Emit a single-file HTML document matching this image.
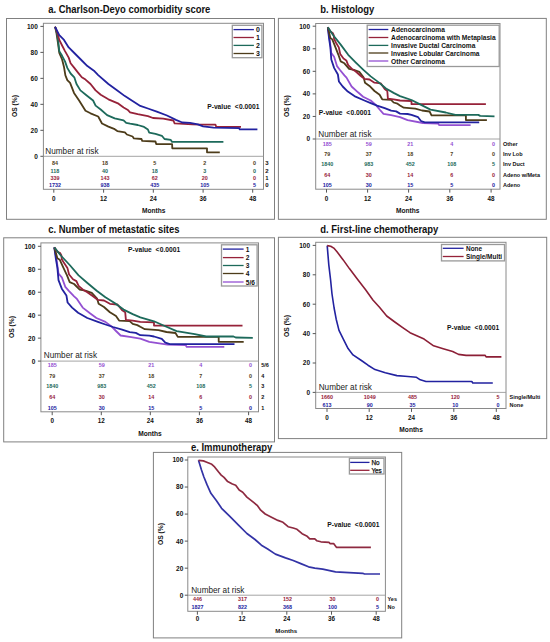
<!DOCTYPE html>
<html><head><meta charset="utf-8"><style>
html,body{margin:0;padding:0;background:#fff;}
svg{display:block;font-family:"Liberation Sans",sans-serif;}
</style></head><body>
<svg width="550" height="642" viewBox="0 0 550 642">
<rect x="0" y="0" width="550" height="642" fill="#fff"/>
<rect x="6.5" y="18.5" width="268.0" height="200.8" fill="none" stroke="#808080" stroke-width="1.0"/>
<text x="0" y="0" font-size="9.45" font-weight="bold" fill="#111" transform="translate(48.2 12.7) scale(1 1.08)">a. Charlson-Deyo comorbidity score</text>
<rect x="43.4" y="23.3" width="220.1" height="166.0" fill="none" stroke="#8a8a8a" stroke-width="1.0"/>
<line x1="40.4" y1="156.3" x2="43.4" y2="156.3" stroke="#444" stroke-width="0.9"/>
<text x="37.8" y="158.70000000000002" font-size="6.5" font-weight="bold" text-anchor="end" fill="#111" >0</text>
<line x1="40.4" y1="130.32000000000002" x2="43.4" y2="130.32000000000002" stroke="#444" stroke-width="0.9"/>
<text x="37.8" y="132.72000000000003" font-size="6.5" font-weight="bold" text-anchor="end" fill="#111" >20</text>
<line x1="40.4" y1="104.34" x2="43.4" y2="104.34" stroke="#444" stroke-width="0.9"/>
<text x="37.8" y="106.74000000000001" font-size="6.5" font-weight="bold" text-anchor="end" fill="#111" >40</text>
<line x1="40.4" y1="78.36000000000001" x2="43.4" y2="78.36000000000001" stroke="#444" stroke-width="0.9"/>
<text x="37.8" y="80.76000000000002" font-size="6.5" font-weight="bold" text-anchor="end" fill="#111" >60</text>
<line x1="40.4" y1="52.38000000000001" x2="43.4" y2="52.38000000000001" stroke="#444" stroke-width="0.9"/>
<text x="37.8" y="54.78000000000001" font-size="6.5" font-weight="bold" text-anchor="end" fill="#111" >80</text>
<line x1="40.4" y1="26.400000000000006" x2="43.4" y2="26.400000000000006" stroke="#444" stroke-width="0.9"/>
<text x="37.8" y="28.800000000000004" font-size="6.5" font-weight="bold" text-anchor="end" fill="#111" >100</text>
<line x1="43.4" y1="156.3" x2="263.5" y2="156.3" stroke="#9a9a9a" stroke-width="0.9"/>
<line x1="53.8" y1="189.3" x2="53.8" y2="192.70000000000002" stroke="#444" stroke-width="0.9"/>
<text x="53.8" y="201.1" font-size="6.3" font-weight="bold" text-anchor="middle" fill="#111" >0</text>
<line x1="103.6" y1="189.3" x2="103.6" y2="192.70000000000002" stroke="#444" stroke-width="0.9"/>
<text x="103.6" y="201.1" font-size="6.3" font-weight="bold" text-anchor="middle" fill="#111" >12</text>
<line x1="153.3" y1="189.3" x2="153.3" y2="192.70000000000002" stroke="#444" stroke-width="0.9"/>
<text x="153.3" y="201.1" font-size="6.3" font-weight="bold" text-anchor="middle" fill="#111" >24</text>
<line x1="203.1" y1="189.3" x2="203.1" y2="192.70000000000002" stroke="#444" stroke-width="0.9"/>
<text x="203.1" y="201.1" font-size="6.3" font-weight="bold" text-anchor="middle" fill="#111" >36</text>
<line x1="252.7" y1="189.3" x2="252.7" y2="192.70000000000002" stroke="#444" stroke-width="0.9"/>
<text x="252.7" y="201.1" font-size="6.3" font-weight="bold" text-anchor="middle" fill="#111" >48</text>
<text x="153.7" y="213.3" font-size="6.6" font-weight="bold" text-anchor="middle" fill="#111" >Months</text>
<text x="16.9" y="106" font-size="6.7" font-weight="bold" text-anchor="middle" fill="#111" transform="rotate(-90 16.9 106)">OS (%)</text>
<text x="45.3" y="154.2" font-size="8.2" font-weight="normal" text-anchor="start" fill="#222" >Number at risk</text>
<text x="207.2" y="109.1" font-size="6.7" font-weight="bold" text-anchor="start" fill="#111" >P-value&#160;&#160;&lt;<tspan dx="0.3">0.0001</tspan></text>
<text x="54.9" y="165.3" font-size="5.4" font-weight="bold" text-anchor="middle" fill="#4d3c1a" >84</text>
<text x="104.89999999999999" y="165.3" font-size="5.4" font-weight="bold" text-anchor="middle" fill="#4d3c1a" >18</text>
<text x="154.8" y="165.3" font-size="5.4" font-weight="bold" text-anchor="middle" fill="#4d3c1a" >5</text>
<text x="204.79999999999998" y="165.3" font-size="5.4" font-weight="bold" text-anchor="middle" fill="#4d3c1a" >2</text>
<text x="254.6" y="165.3" font-size="5.4" font-weight="bold" text-anchor="middle" fill="#4d3c1a" >0</text>
<text x="265.3" y="165.3" font-size="6.0" font-weight="bold" text-anchor="start" fill="#111" >3</text>
<text x="54.9" y="172.70000000000002" font-size="5.4" font-weight="bold" text-anchor="middle" fill="#1d6a5b" >118</text>
<text x="104.89999999999999" y="172.70000000000002" font-size="5.4" font-weight="bold" text-anchor="middle" fill="#1d6a5b" >40</text>
<text x="154.8" y="172.70000000000002" font-size="5.4" font-weight="bold" text-anchor="middle" fill="#1d6a5b" >18</text>
<text x="204.79999999999998" y="172.70000000000002" font-size="5.4" font-weight="bold" text-anchor="middle" fill="#1d6a5b" >3</text>
<text x="254.6" y="172.70000000000002" font-size="5.4" font-weight="bold" text-anchor="middle" fill="#1d6a5b" >0</text>
<text x="265.3" y="172.70000000000002" font-size="6.0" font-weight="bold" text-anchor="start" fill="#111" >2</text>
<text x="54.9" y="180.0" font-size="5.4" font-weight="bold" text-anchor="middle" fill="#962239" >339</text>
<text x="104.89999999999999" y="180.0" font-size="5.4" font-weight="bold" text-anchor="middle" fill="#962239" >143</text>
<text x="154.8" y="180.0" font-size="5.4" font-weight="bold" text-anchor="middle" fill="#962239" >62</text>
<text x="204.79999999999998" y="180.0" font-size="5.4" font-weight="bold" text-anchor="middle" fill="#962239" >20</text>
<text x="254.6" y="180.0" font-size="5.4" font-weight="bold" text-anchor="middle" fill="#962239" >0</text>
<text x="265.3" y="180.0" font-size="6.0" font-weight="bold" text-anchor="start" fill="#111" >1</text>
<text x="54.9" y="187.10000000000002" font-size="5.4" font-weight="bold" text-anchor="middle" fill="#2222a0" >1732</text>
<text x="104.89999999999999" y="187.10000000000002" font-size="5.4" font-weight="bold" text-anchor="middle" fill="#2222a0" >938</text>
<text x="154.8" y="187.10000000000002" font-size="5.4" font-weight="bold" text-anchor="middle" fill="#2222a0" >435</text>
<text x="204.79999999999998" y="187.10000000000002" font-size="5.4" font-weight="bold" text-anchor="middle" fill="#2222a0" >105</text>
<text x="254.6" y="187.10000000000002" font-size="5.4" font-weight="bold" text-anchor="middle" fill="#2222a0" >5</text>
<text x="265.3" y="187.10000000000002" font-size="6.0" font-weight="bold" text-anchor="start" fill="#111" >0</text>
<rect x="232.3" y="25.3" width="29.599999999999966" height="32.400000000000006" fill="#fff" stroke="#999" stroke-width="1.3"/>
<line x1="233.5" y1="29.6" x2="253.9" y2="29.6" stroke="#2222a0" stroke-width="1.3"/>
<text x="256.1" y="32.1" font-size="7.0" font-weight="bold" text-anchor="start" fill="#111" >0</text>
<line x1="233.5" y1="37.5" x2="253.9" y2="37.5" stroke="#962239" stroke-width="1.3"/>
<text x="256.1" y="40.0" font-size="7.0" font-weight="bold" text-anchor="start" fill="#111" >1</text>
<line x1="233.5" y1="45.4" x2="253.9" y2="45.4" stroke="#1d6a5b" stroke-width="1.3"/>
<text x="256.1" y="47.9" font-size="7.0" font-weight="bold" text-anchor="start" fill="#111" >2</text>
<line x1="233.5" y1="53.5" x2="253.9" y2="53.5" stroke="#4d3c1a" stroke-width="1.3"/>
<text x="256.1" y="56.0" font-size="7.0" font-weight="bold" text-anchor="start" fill="#111" >3</text>
<polyline points="55.1,26.8 56.5,33.3 57.9,42.7 59.3,53.0 62.1,59.5 64.0,67.0 65.4,75.4 67.3,80.1 70.1,82.9 74.0,92.9 79.1,100.5 85.5,110.7 90.5,113.3 98.2,116.5 102.0,123.5 108.4,126.6 114.7,129.2 117.3,131.1 124.9,132.4 126.9,134.5 132.6,136.5 133.9,138.4 141.5,139.0 142.2,140.9 155.5,141.5 156.2,144.1 172.1,144.1 172.3,148.3 207.0,148.3 207.0,152.3 219.8,152.3" fill="none" stroke="#4d3c1a" stroke-width="1.8" stroke-linejoin="round"/>
<polyline points="55.1,26.8 57.0,33.3 58.4,42.7 59.3,51.1 62.1,55.8 65.0,61.4 67.3,67.9 70.6,73.5 74.3,77.3 76.5,84.0 80.4,90.4 86.7,95.5 93.1,100.5 95.6,105.6 100.7,109.5 107.1,115.2 114.7,118.4 123.6,120.3 126.2,122.8 130.1,123.7 137.7,125.0 144.1,126.9 147.9,129.5 149.2,132.6 155.5,133.9 161.9,135.8 164.5,139.0 170.8,139.9 172.1,141.9 223.4,141.9" fill="none" stroke="#1d6a5b" stroke-width="1.8" stroke-linejoin="round"/>
<polyline points="55.1,26.8 57.5,33.3 59.3,39.9 62.1,45.5 65.0,51.1 68.7,57.6 70.6,63.3 74.3,67.9 78.0,72.6 81.8,77.3 85.5,79.6 90.5,84.0 95.6,90.4 100.7,94.8 108.4,99.3 118.5,103.7 123.6,107.5 127.5,109.7 130.1,112.3 137.7,114.2 147.9,116.1 153.0,118.0 163.2,118.6 173.4,120.5 174.6,123.3 192.6,124.4 200.5,124.7 215.5,124.7 216.2,126.8 241.0,126.8" fill="none" stroke="#962239" stroke-width="1.8" stroke-linejoin="round"/>
<polyline points="55.1,26.8 59.3,35.2 64.0,39.9 68.7,47.4 74.3,53.0 80.8,59.5 87.4,66.1 93.9,70.7 98.2,75.1 108.4,84.0 117.3,90.4 124.9,96.1 131.4,100.2 140.3,105.9 147.9,108.5 156.8,111.6 167.0,115.5 175.9,119.9 182.3,122.5 190.0,122.8 197.9,124.4 203.1,126.4 213.6,127.7 239.1,128.1 239.7,129.4 257.4,129.4" fill="none" stroke="#2222a0" stroke-width="1.8" stroke-linejoin="round"/>
<rect x="278.4" y="18.4" width="267.9" height="200.9" fill="none" stroke="#808080" stroke-width="1.0"/>
<text x="0" y="0" font-size="9.45" font-weight="bold" fill="#111" transform="translate(320.3 12.7) scale(1 1.08)">b. Histology</text>
<rect x="315.7" y="23.5" width="184.3" height="165.7" fill="none" stroke="#8a8a8a" stroke-width="1.0"/>
<line x1="312.7" y1="139.0" x2="315.7" y2="139.0" stroke="#444" stroke-width="0.9"/>
<text x="310.09999999999997" y="141.4" font-size="6.5" font-weight="bold" text-anchor="end" fill="#111" >0</text>
<line x1="312.7" y1="116.44" x2="315.7" y2="116.44" stroke="#444" stroke-width="0.9"/>
<text x="310.09999999999997" y="118.84" font-size="6.5" font-weight="bold" text-anchor="end" fill="#111" >20</text>
<line x1="312.7" y1="93.88" x2="315.7" y2="93.88" stroke="#444" stroke-width="0.9"/>
<text x="310.09999999999997" y="96.28" font-size="6.5" font-weight="bold" text-anchor="end" fill="#111" >40</text>
<line x1="312.7" y1="71.32" x2="315.7" y2="71.32" stroke="#444" stroke-width="0.9"/>
<text x="310.09999999999997" y="73.72" font-size="6.5" font-weight="bold" text-anchor="end" fill="#111" >60</text>
<line x1="312.7" y1="48.760000000000005" x2="315.7" y2="48.760000000000005" stroke="#444" stroke-width="0.9"/>
<text x="310.09999999999997" y="51.160000000000004" font-size="6.5" font-weight="bold" text-anchor="end" fill="#111" >80</text>
<line x1="312.7" y1="26.200000000000003" x2="315.7" y2="26.200000000000003" stroke="#444" stroke-width="0.9"/>
<text x="310.09999999999997" y="28.6" font-size="6.5" font-weight="bold" text-anchor="end" fill="#111" >100</text>
<line x1="315.7" y1="139" x2="500" y2="139" stroke="#9a9a9a" stroke-width="0.9"/>
<line x1="326.5" y1="189.2" x2="326.5" y2="192.6" stroke="#444" stroke-width="0.9"/>
<text x="326.5" y="200.9" font-size="6.3" font-weight="bold" text-anchor="middle" fill="#111" >0</text>
<line x1="367.6" y1="189.2" x2="367.6" y2="192.6" stroke="#444" stroke-width="0.9"/>
<text x="367.6" y="200.9" font-size="6.3" font-weight="bold" text-anchor="middle" fill="#111" >12</text>
<line x1="408.6" y1="189.2" x2="408.6" y2="192.6" stroke="#444" stroke-width="0.9"/>
<text x="408.6" y="200.9" font-size="6.3" font-weight="bold" text-anchor="middle" fill="#111" >24</text>
<line x1="449.8" y1="189.2" x2="449.8" y2="192.6" stroke="#444" stroke-width="0.9"/>
<text x="449.8" y="200.9" font-size="6.3" font-weight="bold" text-anchor="middle" fill="#111" >36</text>
<line x1="491.1" y1="189.2" x2="491.1" y2="192.6" stroke="#444" stroke-width="0.9"/>
<text x="491.1" y="200.9" font-size="6.3" font-weight="bold" text-anchor="middle" fill="#111" >48</text>
<text x="407.8" y="212.5" font-size="6.6" font-weight="bold" text-anchor="middle" fill="#111" >Months</text>
<text x="289.1" y="106.1" font-size="6.7" font-weight="bold" text-anchor="middle" fill="#111" transform="rotate(-90 289.1 106.1)">OS (%)</text>
<text x="318.3" y="137.2" font-size="8.2" font-weight="normal" text-anchor="start" fill="#222" >Number at risk</text>
<text x="318.7" y="114.5" font-size="6.7" font-weight="bold" text-anchor="start" fill="#111" >P-value&#160;&#160;&lt;<tspan dx="0.3">0.0001</tspan></text>
<text x="327.2" y="145.5" font-size="5.4" font-weight="bold" text-anchor="middle" fill="#9450d2" >185</text>
<text x="368.75" y="145.5" font-size="5.4" font-weight="bold" text-anchor="middle" fill="#9450d2" >59</text>
<text x="410.2" y="145.5" font-size="5.4" font-weight="bold" text-anchor="middle" fill="#9450d2" >21</text>
<text x="451.85" y="145.5" font-size="5.4" font-weight="bold" text-anchor="middle" fill="#9450d2" >4</text>
<text x="493.6" y="145.5" font-size="5.4" font-weight="bold" text-anchor="middle" fill="#9450d2" >0</text>
<text x="503" y="145.5" font-size="5.5" font-weight="bold" text-anchor="start" fill="#111" >Other</text>
<text x="327.2" y="155.60000000000002" font-size="5.4" font-weight="bold" text-anchor="middle" fill="#4d3c1a" >79</text>
<text x="368.75" y="155.60000000000002" font-size="5.4" font-weight="bold" text-anchor="middle" fill="#4d3c1a" >37</text>
<text x="410.2" y="155.60000000000002" font-size="5.4" font-weight="bold" text-anchor="middle" fill="#4d3c1a" >18</text>
<text x="451.85" y="155.60000000000002" font-size="5.4" font-weight="bold" text-anchor="middle" fill="#4d3c1a" >7</text>
<text x="493.6" y="155.60000000000002" font-size="5.4" font-weight="bold" text-anchor="middle" fill="#4d3c1a" >0</text>
<text x="503" y="155.60000000000002" font-size="5.5" font-weight="bold" text-anchor="start" fill="#111" >Inv Lob</text>
<text x="327.2" y="166.3" font-size="5.4" font-weight="bold" text-anchor="middle" fill="#1d6a5b" >1840</text>
<text x="368.75" y="166.3" font-size="5.4" font-weight="bold" text-anchor="middle" fill="#1d6a5b" >983</text>
<text x="410.2" y="166.3" font-size="5.4" font-weight="bold" text-anchor="middle" fill="#1d6a5b" >452</text>
<text x="451.85" y="166.3" font-size="5.4" font-weight="bold" text-anchor="middle" fill="#1d6a5b" >108</text>
<text x="493.6" y="166.3" font-size="5.4" font-weight="bold" text-anchor="middle" fill="#1d6a5b" >5</text>
<text x="503" y="166.3" font-size="5.5" font-weight="bold" text-anchor="start" fill="#111" >Inv Duct</text>
<text x="327.2" y="176.8" font-size="5.4" font-weight="bold" text-anchor="middle" fill="#962239" >64</text>
<text x="368.75" y="176.8" font-size="5.4" font-weight="bold" text-anchor="middle" fill="#962239" >30</text>
<text x="410.2" y="176.8" font-size="5.4" font-weight="bold" text-anchor="middle" fill="#962239" >14</text>
<text x="451.85" y="176.8" font-size="5.4" font-weight="bold" text-anchor="middle" fill="#962239" >6</text>
<text x="493.6" y="176.8" font-size="5.4" font-weight="bold" text-anchor="middle" fill="#962239" >0</text>
<text x="503" y="176.8" font-size="5.5" font-weight="bold" text-anchor="start" fill="#111" >Adeno w/Meta</text>
<text x="327.2" y="187.20000000000002" font-size="5.4" font-weight="bold" text-anchor="middle" fill="#2222a0" >105</text>
<text x="368.75" y="187.20000000000002" font-size="5.4" font-weight="bold" text-anchor="middle" fill="#2222a0" >30</text>
<text x="410.2" y="187.20000000000002" font-size="5.4" font-weight="bold" text-anchor="middle" fill="#2222a0" >15</text>
<text x="451.85" y="187.20000000000002" font-size="5.4" font-weight="bold" text-anchor="middle" fill="#2222a0" >5</text>
<text x="493.6" y="187.20000000000002" font-size="5.4" font-weight="bold" text-anchor="middle" fill="#2222a0" >0</text>
<text x="503" y="187.20000000000002" font-size="5.5" font-weight="bold" text-anchor="start" fill="#111" >Adeno</text>
<rect x="367.2" y="25.2" width="132.0" height="41.3" fill="#fff" stroke="#999" stroke-width="1.3"/>
<line x1="368.6" y1="29.5" x2="388.3" y2="29.5" stroke="#2222a0" stroke-width="1.3"/>
<text x="391.1" y="32.0" font-size="6.63" font-weight="bold" text-anchor="start" fill="#111" >Adenocarcinoma</text>
<line x1="368.6" y1="37.5" x2="388.3" y2="37.5" stroke="#962239" stroke-width="1.3"/>
<text x="391.1" y="40.0" font-size="6.63" font-weight="bold" text-anchor="start" fill="#111" >Adenocarcinoma with Metaplasia</text>
<line x1="368.6" y1="45.4" x2="388.3" y2="45.4" stroke="#1d6a5b" stroke-width="1.3"/>
<text x="391.1" y="47.9" font-size="6.63" font-weight="bold" text-anchor="start" fill="#111" >Invasive Ductal Carcinoma</text>
<line x1="368.6" y1="53" x2="388.3" y2="53" stroke="#4d3c1a" stroke-width="1.3"/>
<text x="391.1" y="55.5" font-size="6.63" font-weight="bold" text-anchor="start" fill="#111" >Invasive Lobular Carcinoma</text>
<line x1="368.6" y1="61" x2="388.3" y2="61" stroke="#9450d2" stroke-width="1.3"/>
<text x="391.1" y="63.5" font-size="6.63" font-weight="bold" text-anchor="start" fill="#111" >Other Carcinoma</text>
<polyline points="327.8,27.3 329.5,38.0 331.3,53.0 334.1,56.7 337.0,66.1 339.8,69.8 344.4,75.4 346.5,77.6 351.6,86.5 358.0,92.3 363.1,96.7 370.7,100.5 375.8,105.0 379.6,109.5 383.5,113.9 391.1,115.2 400.0,117.1 407.6,120.1 422.9,123.0 438.2,123.5 439.1,125.1 470.6,125.1" fill="none" stroke="#9450d2" stroke-width="1.8" stroke-linejoin="round"/>
<polyline points="327.8,27.3 329.0,38.0 330.4,47.4 331.3,59.5 334.1,67.9 337.9,74.5 338.9,81.5 342.7,86.5 347.8,91.6 355.5,96.7 364.4,100.5 370.7,103.1 377.1,105.6 384.7,108.2 391.1,110.7 396.2,111.4 400.0,113.6 407.6,114.0 411.5,114.9 418.1,117.2 421.0,121.0 424.8,122.4 479.2,122.4" fill="none" stroke="#2222a0" stroke-width="1.8" stroke-linejoin="round"/>
<polyline points="327.8,27.3 330.4,38.0 332.3,39.4 335.1,46.4 338.4,54.8 340.7,61.4 344.4,63.3 349.1,68.9 353.8,69.8 359.3,71.9 363.7,77.6 365.0,82.7 369.5,85.9 374.5,91.0 379.6,94.8 382.2,99.3 391.1,99.9 393.6,102.5 397.5,103.7 400.0,105.4 403.8,107.7 415.3,108.6 422.0,110.5 429.6,111.5 431.5,115.3 465.9,115.3 465.9,120.1 486.9,120.1" fill="none" stroke="#4d3c1a" stroke-width="1.8" stroke-linejoin="round"/>
<polyline points="327.8,27.3 330.4,31.5 332.7,32.9 333.7,35.2 334.1,39.0 336.0,42.7 338.8,47.4 340.2,53.9 343.5,58.6 346.3,60.4 348.2,65.1 351.9,68.9 355.5,71.3 360.5,75.7 364.4,78.9 369.5,79.5 374.5,82.7 380.9,83.4 384.7,89.1 387.3,91.0 387.9,98.6 393.6,99.3 400.0,100.5 411.5,101.0 411.5,104.2 485.9,104.2" fill="none" stroke="#962239" stroke-width="1.8" stroke-linejoin="round"/>
<polyline points="327.8,27.3 333.2,35.2 340.7,44.6 348.2,54.8 355.6,62.3 363.4,69.9 370.7,76.4 378.4,82.1 386.0,88.5 393.6,92.9 400.0,96.1 411.5,100.0 419.1,103.9 430.5,109.6 445.8,112.5 455.4,114.9 478.3,114.9 480.2,115.9 494.5,116.3" fill="none" stroke="#1d6a5b" stroke-width="1.8" stroke-linejoin="round"/>
<rect x="3.7" y="237.8" width="270.8" height="204.09999999999997" fill="none" stroke="#808080" stroke-width="1.0"/>
<text x="0" y="0" font-size="9.45" font-weight="bold" fill="#111" transform="translate(48.3 232.6) scale(1 1.08)">c. Number of metastatic sites</text>
<rect x="40.9" y="242.9" width="217.6" height="168.9" fill="none" stroke="#8a8a8a" stroke-width="1.0"/>
<line x1="37.9" y1="361.1" x2="40.9" y2="361.1" stroke="#444" stroke-width="0.9"/>
<text x="35.3" y="363.5" font-size="6.5" font-weight="bold" text-anchor="end" fill="#111" >0</text>
<line x1="37.9" y1="338.14000000000004" x2="40.9" y2="338.14000000000004" stroke="#444" stroke-width="0.9"/>
<text x="35.3" y="340.54" font-size="6.5" font-weight="bold" text-anchor="end" fill="#111" >20</text>
<line x1="37.9" y1="315.18" x2="40.9" y2="315.18" stroke="#444" stroke-width="0.9"/>
<text x="35.3" y="317.58" font-size="6.5" font-weight="bold" text-anchor="end" fill="#111" >40</text>
<line x1="37.9" y1="292.22" x2="40.9" y2="292.22" stroke="#444" stroke-width="0.9"/>
<text x="35.3" y="294.62" font-size="6.5" font-weight="bold" text-anchor="end" fill="#111" >60</text>
<line x1="37.9" y1="269.26" x2="40.9" y2="269.26" stroke="#444" stroke-width="0.9"/>
<text x="35.3" y="271.65999999999997" font-size="6.5" font-weight="bold" text-anchor="end" fill="#111" >80</text>
<line x1="37.9" y1="246.3" x2="40.9" y2="246.3" stroke="#444" stroke-width="0.9"/>
<text x="35.3" y="248.70000000000002" font-size="6.5" font-weight="bold" text-anchor="end" fill="#111" >100</text>
<line x1="40.9" y1="361.1" x2="258.5" y2="361.1" stroke="#9a9a9a" stroke-width="0.9"/>
<line x1="52.2" y1="411.8" x2="52.2" y2="415.2" stroke="#444" stroke-width="0.9"/>
<text x="52.2" y="423.4" font-size="6.3" font-weight="bold" text-anchor="middle" fill="#111" >0</text>
<line x1="101.3" y1="411.8" x2="101.3" y2="415.2" stroke="#444" stroke-width="0.9"/>
<text x="101.3" y="423.4" font-size="6.3" font-weight="bold" text-anchor="middle" fill="#111" >12</text>
<line x1="150.3" y1="411.8" x2="150.3" y2="415.2" stroke="#444" stroke-width="0.9"/>
<text x="150.3" y="423.4" font-size="6.3" font-weight="bold" text-anchor="middle" fill="#111" >24</text>
<line x1="199.4" y1="411.8" x2="199.4" y2="415.2" stroke="#444" stroke-width="0.9"/>
<text x="199.4" y="423.4" font-size="6.3" font-weight="bold" text-anchor="middle" fill="#111" >36</text>
<line x1="248.6" y1="411.8" x2="248.6" y2="415.2" stroke="#444" stroke-width="0.9"/>
<text x="248.6" y="423.4" font-size="6.3" font-weight="bold" text-anchor="middle" fill="#111" >48</text>
<text x="150" y="435.8" font-size="6.6" font-weight="bold" text-anchor="middle" fill="#111" >Months</text>
<text x="14.0" y="327" font-size="6.7" font-weight="bold" text-anchor="middle" fill="#111" transform="rotate(-90 14.0 327)">OS (%)</text>
<text x="43.8" y="358" font-size="8.2" font-weight="normal" text-anchor="start" fill="#222" >Number at risk</text>
<text x="128" y="252.2" font-size="6.7" font-weight="bold" text-anchor="start" fill="#111" >P-value&#160;&#160;&lt;<tspan dx="0.3">0.0001</tspan></text>
<text x="52.2" y="367.2" font-size="5.4" font-weight="bold" text-anchor="middle" fill="#9450d2" >185</text>
<text x="101.75" y="367.2" font-size="5.4" font-weight="bold" text-anchor="middle" fill="#9450d2" >59</text>
<text x="151.20000000000002" y="367.2" font-size="5.4" font-weight="bold" text-anchor="middle" fill="#9450d2" >21</text>
<text x="200.75" y="367.2" font-size="5.4" font-weight="bold" text-anchor="middle" fill="#9450d2" >4</text>
<text x="250.4" y="367.2" font-size="5.4" font-weight="bold" text-anchor="middle" fill="#9450d2" >0</text>
<text x="261.2" y="367.2" font-size="5.5" font-weight="bold" text-anchor="start" fill="#111" >5/6</text>
<text x="52.2" y="377.90000000000003" font-size="5.4" font-weight="bold" text-anchor="middle" fill="#4d3c1a" >79</text>
<text x="101.75" y="377.90000000000003" font-size="5.4" font-weight="bold" text-anchor="middle" fill="#4d3c1a" >37</text>
<text x="151.20000000000002" y="377.90000000000003" font-size="5.4" font-weight="bold" text-anchor="middle" fill="#4d3c1a" >18</text>
<text x="200.75" y="377.90000000000003" font-size="5.4" font-weight="bold" text-anchor="middle" fill="#4d3c1a" >7</text>
<text x="250.4" y="377.90000000000003" font-size="5.4" font-weight="bold" text-anchor="middle" fill="#4d3c1a" >0</text>
<text x="261.2" y="377.90000000000003" font-size="5.5" font-weight="bold" text-anchor="start" fill="#111" >4</text>
<text x="52.2" y="388.40000000000003" font-size="5.4" font-weight="bold" text-anchor="middle" fill="#1d6a5b" >1840</text>
<text x="101.75" y="388.40000000000003" font-size="5.4" font-weight="bold" text-anchor="middle" fill="#1d6a5b" >983</text>
<text x="151.20000000000002" y="388.40000000000003" font-size="5.4" font-weight="bold" text-anchor="middle" fill="#1d6a5b" >452</text>
<text x="200.75" y="388.40000000000003" font-size="5.4" font-weight="bold" text-anchor="middle" fill="#1d6a5b" >108</text>
<text x="250.4" y="388.40000000000003" font-size="5.4" font-weight="bold" text-anchor="middle" fill="#1d6a5b" >5</text>
<text x="261.2" y="388.40000000000003" font-size="5.5" font-weight="bold" text-anchor="start" fill="#111" >3</text>
<text x="52.2" y="399.1" font-size="5.4" font-weight="bold" text-anchor="middle" fill="#962239" >64</text>
<text x="101.75" y="399.1" font-size="5.4" font-weight="bold" text-anchor="middle" fill="#962239" >30</text>
<text x="151.20000000000002" y="399.1" font-size="5.4" font-weight="bold" text-anchor="middle" fill="#962239" >14</text>
<text x="200.75" y="399.1" font-size="5.4" font-weight="bold" text-anchor="middle" fill="#962239" >6</text>
<text x="250.4" y="399.1" font-size="5.4" font-weight="bold" text-anchor="middle" fill="#962239" >0</text>
<text x="261.2" y="399.1" font-size="5.5" font-weight="bold" text-anchor="start" fill="#111" >2</text>
<text x="52.2" y="409.8" font-size="5.4" font-weight="bold" text-anchor="middle" fill="#2222a0" >105</text>
<text x="101.75" y="409.8" font-size="5.4" font-weight="bold" text-anchor="middle" fill="#2222a0" >30</text>
<text x="151.20000000000002" y="409.8" font-size="5.4" font-weight="bold" text-anchor="middle" fill="#2222a0" >15</text>
<text x="200.75" y="409.8" font-size="5.4" font-weight="bold" text-anchor="middle" fill="#2222a0" >5</text>
<text x="250.4" y="409.8" font-size="5.4" font-weight="bold" text-anchor="middle" fill="#2222a0" >0</text>
<text x="261.2" y="409.8" font-size="5.5" font-weight="bold" text-anchor="start" fill="#111" >1</text>
<rect x="221.5" y="244.8" width="35.60000000000002" height="41.19999999999999" fill="#fff" stroke="#999" stroke-width="1.3"/>
<line x1="222.9" y1="249.1" x2="243.6" y2="249.1" stroke="#2222a0" stroke-width="1.3"/>
<text x="245.8" y="251.6" font-size="6.6" font-weight="bold" text-anchor="start" fill="#111" >1</text>
<line x1="222.9" y1="257.6" x2="243.6" y2="257.6" stroke="#962239" stroke-width="1.3"/>
<text x="245.8" y="260.1" font-size="6.6" font-weight="bold" text-anchor="start" fill="#111" >2</text>
<line x1="222.9" y1="265.5" x2="243.6" y2="265.5" stroke="#1d6a5b" stroke-width="1.3"/>
<text x="245.8" y="268.0" font-size="6.6" font-weight="bold" text-anchor="start" fill="#111" >3</text>
<line x1="222.9" y1="273.5" x2="243.6" y2="273.5" stroke="#4d3c1a" stroke-width="1.3"/>
<text x="245.8" y="276.0" font-size="6.6" font-weight="bold" text-anchor="start" fill="#111" >4</text>
<line x1="222.9" y1="282" x2="243.6" y2="282" stroke="#9450d2" stroke-width="1.3"/>
<text x="245.8" y="284.5" font-size="6.6" font-weight="bold" text-anchor="start" fill="#111" >5/6</text>
<polyline points="54.3,247.4 56.4,258.3 58.5,273.6 61.8,277.3 65.3,286.9 68.6,290.6 74.1,296.3 76.6,298.6 82.7,307.6 90.3,313.5 96.4,318.0 105.4,321.9 111.5,326.4 116.0,331.0 120.6,335.5 129.7,336.8 140.3,338.7 149.3,341.8 167.5,344.7 185.7,345.2 186.8,346.9 224.3,346.9" fill="none" stroke="#9450d2" stroke-width="1.8" stroke-linejoin="round"/>
<polyline points="54.3,247.4 55.8,258.3 57.4,267.9 58.5,280.2 61.8,288.7 66.4,295.4 67.6,302.5 72.1,307.6 78.1,312.8 87.3,318.0 97.9,321.9 105.4,324.5 113.0,327.0 122.1,329.7 129.7,332.2 135.8,332.9 140.3,335.2 149.3,335.6 154.0,336.5 161.8,338.8 165.3,342.7 169.8,344.1 234.5,344.1" fill="none" stroke="#2222a0" stroke-width="1.8" stroke-linejoin="round"/>
<polyline points="54.3,247.4 57.4,258.3 59.7,259.7 63.0,266.8 67.0,275.4 69.7,282.1 74.1,284.0 79.7,289.7 85.3,290.6 91.8,292.8 97.1,298.6 98.6,303.8 104.0,307.0 109.9,312.2 116.0,316.1 119.1,320.6 129.7,321.2 132.7,323.9 137.3,325.1 140.3,326.8 144.8,329.2 158.5,330.1 166.5,332.0 175.5,333.0 177.8,336.9 218.7,336.9 218.7,341.8 243.7,341.8" fill="none" stroke="#4d3c1a" stroke-width="1.8" stroke-linejoin="round"/>
<polyline points="54.3,247.4 57.4,251.7 60.2,253.1 61.4,255.5 61.8,259.3 64.1,263.1 67.4,267.9 69.1,274.5 73.0,279.2 76.4,281.1 78.6,285.9 83.0,289.7 87.3,292.2 93.3,296.6 97.9,299.9 104.0,300.5 109.9,303.8 117.5,304.5 122.1,310.3 125.2,312.2 125.9,319.9 132.7,320.6 140.3,321.9 154.0,322.4 154.0,325.6 242.5,325.6" fill="none" stroke="#962239" stroke-width="1.8" stroke-linejoin="round"/>
<polyline points="54.3,247.4 60.8,255.5 69.7,265.0 78.6,275.4 87.4,283.0 96.7,290.7 105.4,297.3 114.6,303.1 123.6,309.6 132.7,314.1 140.3,317.4 154.0,321.3 163.0,325.3 176.6,331.1 194.8,334.1 206.2,336.5 233.5,336.5 235.7,337.5 252.8,337.9" fill="none" stroke="#1d6a5b" stroke-width="1.8" stroke-linejoin="round"/>
<rect x="278.4" y="237.3" width="268.30000000000007" height="201.3" fill="none" stroke="#808080" stroke-width="1.0"/>
<text x="0" y="0" font-size="9.45" font-weight="bold" fill="#111" transform="translate(320.3 232.6) scale(1 1.08)">d. First-line chemotherapy</text>
<rect x="315.7" y="242.3" width="190.3" height="166.2" fill="none" stroke="#8a8a8a" stroke-width="1.0"/>
<line x1="312.7" y1="392.4" x2="315.7" y2="392.4" stroke="#444" stroke-width="0.9"/>
<text x="310.09999999999997" y="394.79999999999995" font-size="6.5" font-weight="bold" text-anchor="end" fill="#111" >0</text>
<line x1="312.7" y1="363.0" x2="315.7" y2="363.0" stroke="#444" stroke-width="0.9"/>
<text x="310.09999999999997" y="365.4" font-size="6.5" font-weight="bold" text-anchor="end" fill="#111" >20</text>
<line x1="312.7" y1="333.59999999999997" x2="315.7" y2="333.59999999999997" stroke="#444" stroke-width="0.9"/>
<text x="310.09999999999997" y="335.99999999999994" font-size="6.5" font-weight="bold" text-anchor="end" fill="#111" >40</text>
<line x1="312.7" y1="304.2" x2="315.7" y2="304.2" stroke="#444" stroke-width="0.9"/>
<text x="310.09999999999997" y="306.59999999999997" font-size="6.5" font-weight="bold" text-anchor="end" fill="#111" >60</text>
<line x1="312.7" y1="274.8" x2="315.7" y2="274.8" stroke="#444" stroke-width="0.9"/>
<text x="310.09999999999997" y="277.2" font-size="6.5" font-weight="bold" text-anchor="end" fill="#111" >80</text>
<line x1="312.7" y1="245.4" x2="315.7" y2="245.4" stroke="#444" stroke-width="0.9"/>
<text x="310.09999999999997" y="247.8" font-size="6.5" font-weight="bold" text-anchor="end" fill="#111" >100</text>
<line x1="315.7" y1="392.4" x2="506.0" y2="392.4" stroke="#9a9a9a" stroke-width="0.9"/>
<line x1="327" y1="408.5" x2="327" y2="411.9" stroke="#444" stroke-width="0.9"/>
<text x="327" y="419.5" font-size="6.3" font-weight="bold" text-anchor="middle" fill="#111" >0</text>
<line x1="369.2" y1="408.5" x2="369.2" y2="411.9" stroke="#444" stroke-width="0.9"/>
<text x="369.2" y="419.5" font-size="6.3" font-weight="bold" text-anchor="middle" fill="#111" >12</text>
<line x1="411.5" y1="408.5" x2="411.5" y2="411.9" stroke="#444" stroke-width="0.9"/>
<text x="411.5" y="419.5" font-size="6.3" font-weight="bold" text-anchor="middle" fill="#111" >24</text>
<line x1="453.8" y1="408.5" x2="453.8" y2="411.9" stroke="#444" stroke-width="0.9"/>
<text x="453.8" y="419.5" font-size="6.3" font-weight="bold" text-anchor="middle" fill="#111" >36</text>
<line x1="496.3" y1="408.5" x2="496.3" y2="411.9" stroke="#444" stroke-width="0.9"/>
<text x="496.3" y="419.5" font-size="6.3" font-weight="bold" text-anchor="middle" fill="#111" >48</text>
<text x="411.1" y="432.1" font-size="6.6" font-weight="bold" text-anchor="middle" fill="#111" >Months</text>
<text x="289.1" y="325.9" font-size="6.7" font-weight="bold" text-anchor="middle" fill="#111" transform="rotate(-90 289.1 325.9)">OS (%)</text>
<text x="318.7" y="390.3" font-size="8.2" font-weight="normal" text-anchor="start" fill="#222" >Number at risk</text>
<text x="447" y="329.8" font-size="6.7" font-weight="bold" text-anchor="start" fill="#111" >P-value&#160;&#160;&lt;<tspan dx="0.3">0.0001</tspan></text>
<text x="327.0" y="398.8" font-size="5.4" font-weight="bold" text-anchor="middle" fill="#962239" >1660</text>
<text x="369.65" y="398.8" font-size="5.4" font-weight="bold" text-anchor="middle" fill="#962239" >1049</text>
<text x="412.4" y="398.8" font-size="5.4" font-weight="bold" text-anchor="middle" fill="#962239" >485</text>
<text x="455.15000000000003" y="398.8" font-size="5.4" font-weight="bold" text-anchor="middle" fill="#962239" >120</text>
<text x="498.1" y="398.8" font-size="5.4" font-weight="bold" text-anchor="middle" fill="#962239" >5</text>
<text x="509.5" y="398.8" font-size="5.5" font-weight="bold" text-anchor="start" fill="#111" >Single/Multi</text>
<text x="327.0" y="406.8" font-size="5.4" font-weight="bold" text-anchor="middle" fill="#2222a0" >613</text>
<text x="369.65" y="406.8" font-size="5.4" font-weight="bold" text-anchor="middle" fill="#2222a0" >90</text>
<text x="412.4" y="406.8" font-size="5.4" font-weight="bold" text-anchor="middle" fill="#2222a0" >35</text>
<text x="455.15000000000003" y="406.8" font-size="5.4" font-weight="bold" text-anchor="middle" fill="#2222a0" >10</text>
<text x="498.1" y="406.8" font-size="5.4" font-weight="bold" text-anchor="middle" fill="#2222a0" >0</text>
<text x="509.5" y="406.8" font-size="5.5" font-weight="bold" text-anchor="start" fill="#111" >None</text>
<rect x="441.5" y="244.5" width="63.0" height="16.399999999999977" fill="#fff" stroke="#999" stroke-width="1.3"/>
<line x1="442.8" y1="248.3" x2="463.6" y2="248.3" stroke="#2222a0" stroke-width="1.3"/>
<text x="466" y="250.8" font-size="6.45" font-weight="bold" text-anchor="start" fill="#111" >None</text>
<line x1="442.8" y1="256.5" x2="463.6" y2="256.5" stroke="#962239" stroke-width="1.3"/>
<text x="466" y="259.0" font-size="6.45" font-weight="bold" text-anchor="start" fill="#111" >Single/Multi</text>
<polyline points="327.2,245.6 328.8,264.9 330.6,280.0 332.0,294.0 334.1,308.0 336.2,319.2 339.0,330.4 343.2,338.8 348.1,348.6 353.0,354.9 361.4,360.5 368.0,365.2 375.0,369.6 385.3,372.7 396.9,375.6 405.0,376.2 416.5,377.3 420.3,379.8 426.0,381.5 471.8,381.5 472.8,383.0 492.8,383.0" fill="none" stroke="#2222a0" stroke-width="1.6" stroke-linejoin="round"/>
<polyline points="327.2,245.6 330.7,246.2 333.8,248.1 337.0,251.8 343.2,259.9 349.4,268.6 356.9,278.6 365.6,289.8 372.9,300.0 379.5,307.3 386.7,316.0 395.5,322.5 402.7,327.6 410.0,332.7 414.5,334.7 424.1,339.1 433.6,345.8 443.2,348.7 452.7,351.5 458.5,354.4 466.1,355.4 485.2,355.4 486.1,356.9 501.4,356.9" fill="none" stroke="#8c1f36" stroke-width="1.6" stroke-linejoin="round"/>
<rect x="153.4" y="452.4" width="248.29999999999998" height="185.5" fill="none" stroke="#808080" stroke-width="1.0"/>
<text x="0" y="0" font-size="9.45" font-weight="bold" fill="#111" transform="translate(191 451.1) scale(1 1.08)">e. Immunotherapy</text>
<rect x="187.8" y="457.0" width="197.59999999999997" height="154.29999999999995" fill="none" stroke="#8a8a8a" stroke-width="1.0"/>
<line x1="184.8" y1="595.2" x2="187.8" y2="595.2" stroke="#444" stroke-width="0.9"/>
<text x="183.3" y="597.6" font-size="6.5" font-weight="bold" text-anchor="end" fill="#111" >0</text>
<line x1="184.8" y1="568.1600000000001" x2="187.8" y2="568.1600000000001" stroke="#444" stroke-width="0.9"/>
<text x="183.3" y="570.5600000000001" font-size="6.5" font-weight="bold" text-anchor="end" fill="#111" >20</text>
<line x1="184.8" y1="541.12" x2="187.8" y2="541.12" stroke="#444" stroke-width="0.9"/>
<text x="183.3" y="543.52" font-size="6.5" font-weight="bold" text-anchor="end" fill="#111" >40</text>
<line x1="184.8" y1="514.08" x2="187.8" y2="514.08" stroke="#444" stroke-width="0.9"/>
<text x="183.3" y="516.48" font-size="6.5" font-weight="bold" text-anchor="end" fill="#111" >60</text>
<line x1="184.8" y1="487.04" x2="187.8" y2="487.04" stroke="#444" stroke-width="0.9"/>
<text x="183.3" y="489.44" font-size="6.5" font-weight="bold" text-anchor="end" fill="#111" >80</text>
<line x1="184.8" y1="460.0" x2="187.8" y2="460.0" stroke="#444" stroke-width="0.9"/>
<text x="183.3" y="462.4" font-size="6.5" font-weight="bold" text-anchor="end" fill="#111" >100</text>
<line x1="187.8" y1="595.2" x2="385.4" y2="595.2" stroke="#9a9a9a" stroke-width="0.9"/>
<line x1="197.4" y1="611.3" x2="197.4" y2="614.6999999999999" stroke="#444" stroke-width="0.9"/>
<text x="197.4" y="620.8" font-size="6.3" font-weight="bold" text-anchor="middle" fill="#111" >0</text>
<line x1="242.1" y1="611.3" x2="242.1" y2="614.6999999999999" stroke="#444" stroke-width="0.9"/>
<text x="242.1" y="620.8" font-size="6.3" font-weight="bold" text-anchor="middle" fill="#111" >12</text>
<line x1="286.8" y1="611.3" x2="286.8" y2="614.6999999999999" stroke="#444" stroke-width="0.9"/>
<text x="286.8" y="620.8" font-size="6.3" font-weight="bold" text-anchor="middle" fill="#111" >24</text>
<line x1="331.5" y1="611.3" x2="331.5" y2="614.6999999999999" stroke="#444" stroke-width="0.9"/>
<text x="331.5" y="620.8" font-size="6.3" font-weight="bold" text-anchor="middle" fill="#111" >36</text>
<line x1="376.2" y1="611.3" x2="376.2" y2="614.6999999999999" stroke="#444" stroke-width="0.9"/>
<text x="376.2" y="620.8" font-size="6.3" font-weight="bold" text-anchor="middle" fill="#111" >48</text>
<text x="286.2" y="632.6" font-size="6.15" font-weight="bold" text-anchor="middle" fill="#111" >Months</text>
<text x="163.1" y="534" font-size="6.7" font-weight="bold" text-anchor="middle" fill="#111" transform="rotate(-90 163.1 534)">OS (%)</text>
<text x="191.2" y="592.8" font-size="8.2" font-weight="normal" text-anchor="start" fill="#222" >Number at risk</text>
<text x="327.3" y="527" font-size="6.7" font-weight="bold" text-anchor="start" fill="#111" >P-value&#160;&#160;&lt;<tspan dx="0.3">0.0001</tspan></text>
<text x="197.4" y="601.1999999999999" font-size="5.4" font-weight="bold" text-anchor="middle" fill="#962239" >446</text>
<text x="242.4" y="601.1999999999999" font-size="5.4" font-weight="bold" text-anchor="middle" fill="#962239" >317</text>
<text x="287.40000000000003" y="601.1999999999999" font-size="5.4" font-weight="bold" text-anchor="middle" fill="#962239" >152</text>
<text x="332.4" y="601.1999999999999" font-size="5.4" font-weight="bold" text-anchor="middle" fill="#962239" >30</text>
<text x="377.4" y="601.1999999999999" font-size="5.4" font-weight="bold" text-anchor="middle" fill="#962239" >0</text>
<text x="387.5" y="601.1999999999999" font-size="5.5" font-weight="bold" text-anchor="start" fill="#111" >Yes</text>
<text x="197.4" y="609.0" font-size="5.4" font-weight="bold" text-anchor="middle" fill="#2222a0" >1827</text>
<text x="242.4" y="609.0" font-size="5.4" font-weight="bold" text-anchor="middle" fill="#2222a0" >822</text>
<text x="287.40000000000003" y="609.0" font-size="5.4" font-weight="bold" text-anchor="middle" fill="#2222a0" >368</text>
<text x="332.4" y="609.0" font-size="5.4" font-weight="bold" text-anchor="middle" fill="#2222a0" >100</text>
<text x="377.4" y="609.0" font-size="5.4" font-weight="bold" text-anchor="middle" fill="#2222a0" >5</text>
<text x="387.5" y="609.0" font-size="5.5" font-weight="bold" text-anchor="start" fill="#111" >No</text>
<rect x="349.4" y="458.3" width="34.60000000000002" height="15.699999999999989" fill="#fff" stroke="#999" stroke-width="1.3"/>
<line x1="350.2" y1="462.4" x2="369.5" y2="462.4" stroke="#2222a0" stroke-width="1.3"/>
<text x="371.4" y="464.9" font-size="6.4" font-weight="normal" text-anchor="start" fill="#111" stroke="#111" stroke-width="0.25">No</text>
<line x1="350.2" y1="470.3" x2="369.5" y2="470.3" stroke="#962239" stroke-width="1.3"/>
<text x="371.4" y="472.8" font-size="6.4" font-weight="normal" text-anchor="start" fill="#111" stroke="#111" stroke-width="0.25">Yes</text>
<polyline points="198.5,460.3 201.5,470.0 203.9,477.0 207.1,484.9 210.9,493.3 216.5,500.8 221.6,508.3 230.1,516.7 238.5,525.1 246.9,533.5 255.0,539.5 261.4,545.2 267.7,549.0 275.4,554.1 285.5,557.9 293.2,560.5 300.8,563.6 308.5,566.8 314.8,568.1 322.7,569.1 335.5,571.8 344.5,572.4 362.7,573.3 364.5,574.0 380.0,574.0" fill="none" stroke="#3333a6" stroke-width="1.7" stroke-linejoin="round"/>
<polyline points="198.5,460.3 203.4,460.9 206.2,462.0 211.8,464.3 214.6,466.9 218.4,471.8 221.2,475.1 224.0,477.4 227.7,481.6 232.4,484.0 235.7,485.2 239.2,490.1 242.7,492.2 246.9,497.1 253.9,502.7 257.5,505.7 260.7,510.2 265.2,514.0 271.5,517.2 277.9,520.4 283.0,522.3 288.1,526.7 293.2,528.0 297.0,529.3 302.1,533.7 307.2,536.3 309.7,538.8 314.8,538.8 316.7,540.7 320.9,541.8 329.1,542.4 330.0,543.6 333.6,543.6 336.4,547.3 370.9,547.3" fill="none" stroke="#8e2a40" stroke-width="1.7" stroke-linejoin="round"/>
</svg></body></html>
